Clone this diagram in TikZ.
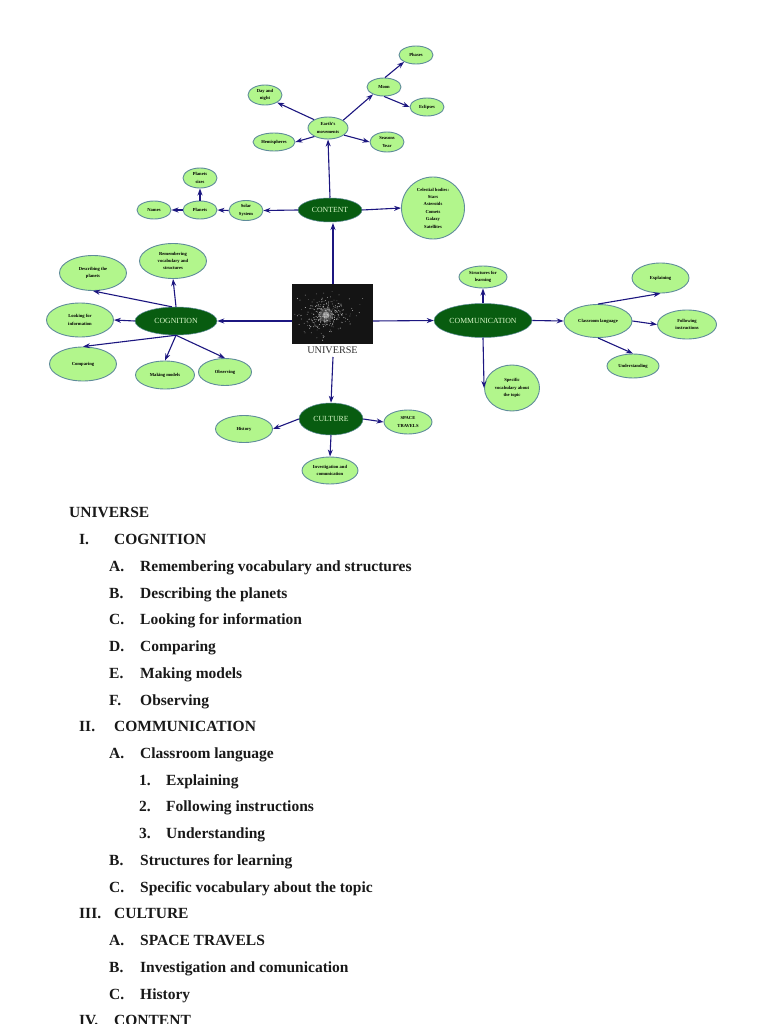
\documentclass[tikz,border=0pt]{standalone}
\usepackage{fontspec}
\setmainfont{Liberation Serif}
\usetikzlibrary{shapes,arrows,arrows.meta,calc,positioning}
\definecolor{leafgreen}{HTML}{B2F68C}
\definecolor{hubgreen}{HTML}{085C10}
\definecolor{rimblue}{HTML}{5F8C9A}
\definecolor{linkblue}{HTML}{1C1680}
\tikzstyle{link} = [->, >={Stealth[length=7pt,width=5pt]}, draw=linkblue, line width=1.1pt]
\tikzstyle{leaf} = [ellipse, draw=rimblue, fill=leafgreen, line width=0.9pt, inner sep=0pt, align=center,
  font=\fontsize{4.6}{7.4}\selectfont\bfseries]
\tikzstyle{hub} = [ellipse, draw=rimblue, fill=hubgreen, text=leafgreen!45!white, line width=0.5pt, inner sep=0pt,
  font=\fontsize{7.8}{10}\selectfont]
\tikzstyle{outline} = [anchor=base west, inner sep=0pt, font=\fontsize{15.5}{18}\selectfont\bfseries, text=black!90]
\begin{document}
\begin{tikzpicture}[x=1pt,y=-1pt]
\useasboundingbox (0,0) rectangle (768,1024);
\fill[white] (0,0) rectangle (768,1024);

% centre picture
\node[fill=black!92, minimum width=81pt, minimum height=60pt, inner sep=0pt] (universe) at (332.5,314) {};
\begin{scope}
\clip (universe.north west) rectangle (universe.south east);
\pgfmathsetseed{11}
\foreach \i in {1,...,300}{
  \pgfmathsetmacro{\dx}{11*(rnd+rnd+rnd+rnd-2)*(1+1.6*rnd)}
  \pgfmathsetmacro{\dy}{8*(rnd+rnd+rnd+rnd-2)*(1+1.6*rnd)}
  \pgfmathsetmacro{\lum}{30+60*rnd}
  \fill[white!\lum!black] (326+\dx,315+\dy) circle (0.5pt);
}
\fill[white!75!black, opacity=0.3] (326,315) circle (7pt);
\fill[white!85!black, opacity=0.5] (326,315) circle (3.5pt);
\end{scope}
\node[inner sep=0pt, font=\fontsize{10.2}{11}\selectfont, text=black!80] (unilabel) at (332.5,350.5) {UNIVERSE};

% main branches
\node[hub, minimum width=64pt, minimum height=24pt] (content) at (330,210) {CONTENT};
\node[hub, minimum width=82pt, minimum height=28pt] (cognition) at (176,321) {COGNITION};
\node[hub, minimum width=98pt, minimum height=34pt] (communication) at (483,320.5) {COMMUNICATION};
\node[hub, minimum width=64pt, minimum height=32pt] (culture) at (331,419) {CULTURE};

% content
\node[leaf, minimum width=40pt, minimum height=22pt] (earth) at (328,128) {Earth's\\movements};
\node[leaf, minimum width=34pt, minimum height=20pt] (daynight) at (265,95) {Day and\\night};
\node[leaf, minimum width=34pt, minimum height=18pt] (moon) at (384,87) {Moon};
\node[leaf, minimum width=34pt, minimum height=18pt] (phases) at (416,55) {Phases};
\node[leaf, minimum width=34pt, minimum height=18pt] (eclipses) at (427,107) {Eclipses};
\node[leaf, minimum width=34pt, minimum height=20pt] (seasons) at (387,142) {Seasons\\Year};
\node[leaf, minimum width=42pt, minimum height=18pt] (hemispheres) at (274,142) {Hemispheres};
\node[leaf, minimum width=34pt, minimum height=20pt] (pstars) at (200,178) {Planets\\sizes};
\node[leaf, minimum width=34pt, minimum height=18pt] (planets) at (200,210) {Planets};
\node[leaf, minimum width=34pt, minimum height=18pt] (names) at (154,210) {Names};
\node[leaf, minimum width=34pt, minimum height=20pt] (solar) at (246,210.5) {Solar\\System};
\node[leaf, minimum width=63pt, minimum height=62pt] (celestial) at (433,208) {Celestial bodies:\\Stars\\Asteroids\\Comets\\Galaxy\\Satellites};

% cognition
\node[leaf, minimum width=67pt, minimum height=35pt] (remember) at (173,261) {Remembering\\vocabulary and\\structures};
\node[leaf, minimum width=67pt, minimum height=35pt] (describe) at (93,273) {Describing the\\planets};
\node[leaf, minimum width=67pt, minimum height=34pt] (looking) at (80,320) {Looking for\\information};
\node[leaf, minimum width=67pt, minimum height=34pt] (comparing) at (83,364) {Comparing};
\node[leaf, minimum width=59pt, minimum height=28pt] (models) at (165,375) {Making models};
\node[leaf, minimum width=53pt, minimum height=27pt] (observing) at (225,372) {Observing};

% culture
\node[leaf, minimum width=57pt, minimum height=27pt] (history) at (244,429) {History};
\node[leaf, minimum width=48pt, minimum height=24pt] (space) at (408,422) {SPACE\\TRAVELS};
\node[leaf, minimum width=56pt, minimum height=27pt] (invest) at (330,470.5) {Investigation and\\comunication};

% communication
\node[leaf, minimum width=48pt, minimum height=22pt] (structures) at (483,277) {Structures for\\learning};
\node[leaf, minimum width=55pt, minimum height=46pt] (specific) at (512,388) {Specific\\vocabulary about\\the topic};
\node[leaf, minimum width=68pt, minimum height=33pt] (classroom) at (598,321) {Classroom language};
\node[leaf, minimum width=57pt, minimum height=30pt] (explaining) at (660.5,278) {Explaining};
\node[leaf, minimum width=59pt, minimum height=29pt] (following) at (687,324.5) {Following\\instructions};
\node[leaf, minimum width=52pt, minimum height=24pt] (understanding) at (633,366) {Understanding};

% connectors
\coordinate (uniN) at (333,284);
\coordinate (uniS) at (333,357);
\coordinate (uniW) at (292,321);
\coordinate (uniE) at (373,321);
\coordinate (contentS) at (333,223);
\draw[link] (uniW) -- (cognition.east);
\draw[link] (uniE) -- (communication.west);
\draw[link] (uniN) -- (contentS);
\draw[link] (uniS) -- (culture.north);
\draw[link] (content.north) -- (earth.south);
\draw[link] (earth.149) -- (daynight.-32);
\draw[link] (earth.212) -- (hemispheres.east);
\draw[link] (earth.27) -- (moon.214);
\draw[link] (earth.-24) -- (seasons.west);
\draw[link] (moon.84) -- (phases.210);
\draw[link] (moon.-90) -- (eclipses.west);
\draw[link] (content.west) -- (solar.east);
\draw[link] (content.east) -- (celestial.west);
\draw[link] (solar.west) -- (planets.east);
\draw[link] (planets.west) -- (names.east);
\draw[link] (planets.north) -- (pstars.south);
\draw[link] (cognition.north) -- (remember.south);
\draw[link] (cognition.106) -- (describe.south);
\draw[link] (cognition.west) -- (looking.east);
\draw[link] (cognition.south) -- (comparing.north);
\draw[link] (cognition.south) -- (models.north);
\draw[link] (cognition.south) -- (observing.north);
\draw[link] (culture.west) -- (history.east);
\draw[link] (culture.east) -- (space.west);
\draw[link] (culture.south) -- (invest.north);
\draw[link] (communication.north) -- (structures.south);
\draw[link] (communication.south) -- (specific.west);
\draw[link] (communication.east) -- (classroom.west);
\draw[link] (classroom.north) -- (explaining.south);
\draw[link] (classroom.east) -- (following.west);
\draw[link] (classroom.south) -- (understanding.north);

% outline
\node[outline] (listtitle) at (69,517) {UNIVERSE};
\foreach \y/\num/\txt [count=\n] in {
  544/I./COGNITION, 731/II./COMMUNICATION, 918/III./CULTURE, 1025/IV./CONTENT}{
  \node[outline] (topnum\n) at (79,\y) {\num};
  \node[outline] (toptxt\n) at (114,\y) {\txt};
}
\foreach \y/\num/\txt [count=\n] in {
  571/A./Remembering vocabulary and structures,
  598/B./Describing the planets,
  624/C./Looking for information,
  651/D./Comparing,
  678/E./Making models,
  705/F./Observing,
  758/A./Classroom language,
  865/B./Structures for learning,
  892/C./Specific vocabulary about the topic,
  945/A./SPACE TRAVELS,
  972/B./Investigation and comunication,
  999/C./History}{
  \node[outline] (subnum\n) at (109,\y) {\num};
  \node[outline] (subtxt\n) at (140,\y) {\txt};
}
\foreach \y/\num/\txt [count=\n] in {
  785/1./Explaining,
  811/2./Following instructions,
  838/3./Understanding}{
  \node[outline] (itemnum\n) at (139,\y) {\num};
  \node[outline] (itemtxt\n) at (166,\y) {\txt};
}
\end{tikzpicture}
\end{document}
